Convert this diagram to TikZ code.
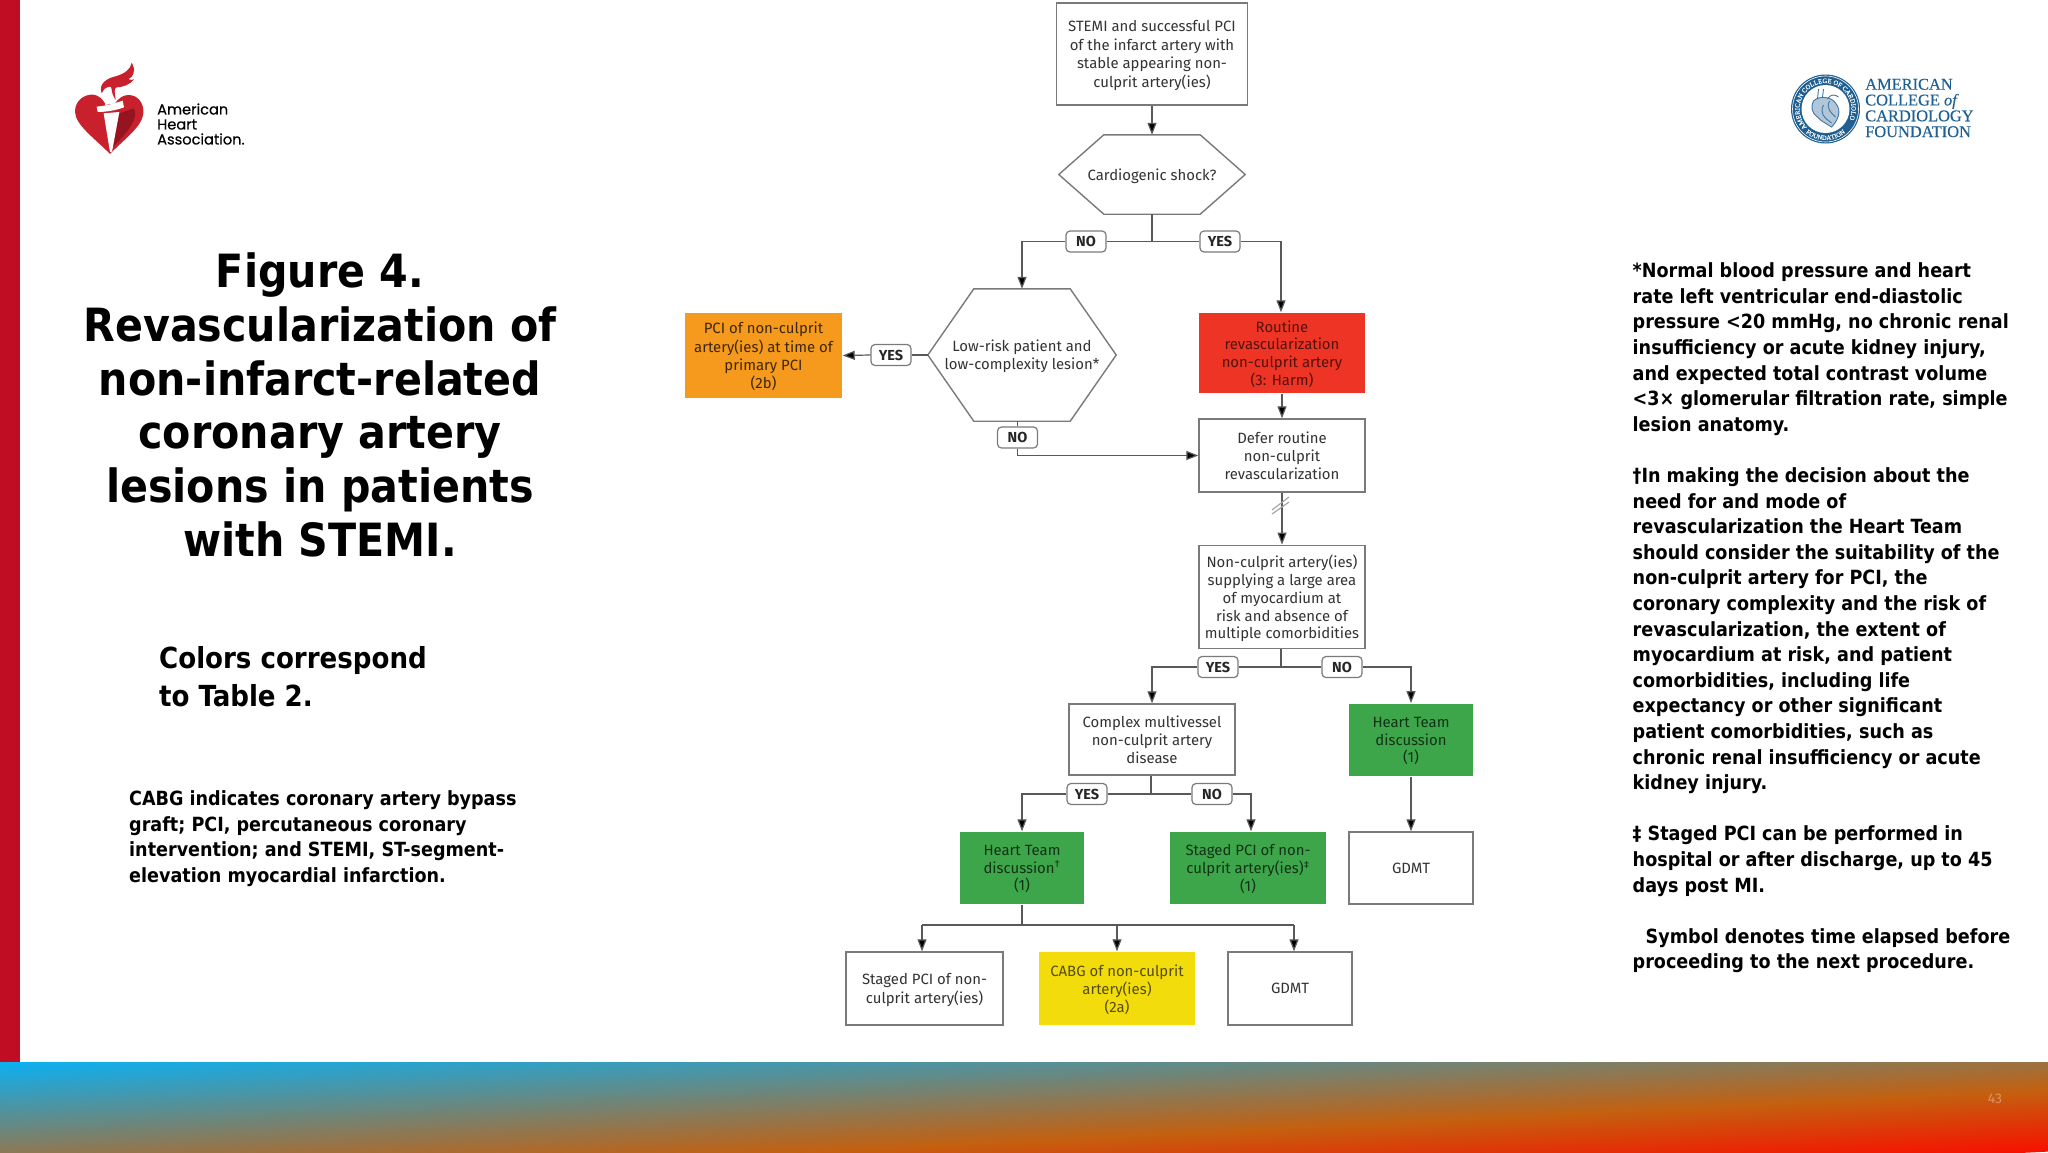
\documentclass[tikz,border=0pt]{standalone}
\usepackage{fontspec}
\setmainfont{Fira Sans}
\newfontfamily\sidefont{DejaVu Sans Condensed}
\newfontfamily\logoserif{Liberation Serif}[FakeBold=0.25]
\newfontfamily\ahafont{Poppins}[FakeBold=0.35]
\usetikzlibrary{arrows.meta,calc,decorations.text}
\definecolor{sidebar}{HTML}{C00D24}
\definecolor{linegray}{HTML}{7A7A7A}
\definecolor{boxorange}{HTML}{F59A1C}
\definecolor{boxred}{HTML}{EE3424}
\definecolor{boxgreen}{HTML}{3DA64B}
\definecolor{boxyellow}{HTML}{F2DC0C}
\definecolor{ahared}{HTML}{C9202E}
\definecolor{ahadark}{HTML}{961420}
\definecolor{accblue}{HTML}{1F5F92}
\definecolor{gradblue}{HTML}{0CB0F2}
\definecolor{gradorange}{HTML}{C4600F}
\definecolor{gradred}{HTML}{F81000}
\pgfdeclareverticalshading{barfill}{100bp}{color(0bp)=(gradred);color(25bp)=(gradred);color(41bp)=(gradorange);color(75bp)=(gradblue);color(100bp)=(gradblue)}
\newcommand{\flowsize}[1]{\fontsize{14.9}{#1}\selectfont}
\tikzset{
  box/.style={draw=linegray,line width=1.4pt,fill=white,inner sep=0pt,align=center,
    font=\flowsize{17.8},text=black!80,text depth=0pt},
  fillbox/.style={box,draw=none,fill=#1},
  hexnode/.style={inner sep=0pt,align=center,font=\flowsize{17.8},text=black!80,text depth=0pt},
  hexline/.style={draw=linegray,line width=1.4pt},
  pill/.style={draw=linegray,line width=1.2pt,fill=white,rounded corners=4pt,minimum width=40pt,
    minimum height=21pt,inner sep=0pt,font=\fontsize{14.5}{14.5}\selectfont\bfseries,text=black!85},
  conn/.style={draw=black!65,line width=1.2pt},
  arrow/.style={conn,-{Triangle[length=12pt,width=9pt,fill=black]}},
  slash/.style={draw=black!35,line width=1.2pt},
  title/.style={inner sep=0pt,align=center,font=\sidefont\fontsize{45.8}{53.8}\selectfont\bfseries},
  bodytext/.style={inner sep=0pt,align=left,anchor=west,font=\sidefont\fontsize{19.55}{25.6}\selectfont\bfseries},
}
\begin{document}
\begin{tikzpicture}[x=1pt,y=-1pt]
\useasboundingbox (0,0) rectangle (2048,1152);
\fill[white] (0,0) rectangle (2048,1152);
% side bar and gradient band
\fill[sidebar] (0,0) rectangle (20,1062);
\begin{scope}
\clip (0,1062) rectangle (2048,1152);
\begin{scope}[transform canvas={cm={1,0.05,0,1,(0,0)}}]
\shade[shading=barfill] (-100,1062) rectangle (2148,1254);
\end{scope}
\end{scope}
\node[inner sep=0pt,font=\fontsize{14}{14}\selectfont,text=white,opacity=.35] (pagenum) at (1995,1099) {43};

% AHA logo
\begin{scope}[shift={(60,50)},x=0.3333pt,y=-0.3333pt]
\fill[ahared] (150,312) .. controls (110,270) and (45,225) .. (45,185) .. controls (45,150) and (75,132) .. (100,134) .. controls (115,135) and (128,148) .. (135,160) -- (165,160) .. controls (175,145) and (190,135) .. (205,135) .. controls (235,135) and (252,160) .. (250,190) .. controls (247,230) and (190,270) .. (150,312) -- cycle;
\fill[ahadark] (178,190) -- (222,175) .. controls (235,200) and (215,235) .. (160,290) -- cycle;
\fill[white] (131,190) -- (178,186) -- (156,305) -- (150,306) -- cycle;
\fill[white] (110,170) .. controls (135,168) and (165,160) .. (188,152) -- (192,172) .. controls (165,182) and (135,186) .. (113,186) -- cycle;
\fill[white] (135,165) .. controls (135,150) and (145,140) .. (150,130) -- (170,125) -- (165,160) -- cycle;
\fill[ahared] (125,130) .. controls (115,100) and (140,85) .. (170,78) .. controls (195,70) and (212,58) .. (215,38) .. controls (228,60) and (222,80) .. (205,88) .. controls (212,90) and (218,90) .. (222,88) .. controls (210,105) and (185,112) .. (170,112) .. controls (160,115) and (165,130) .. (167,150) .. controls (150,125) and (158,108) .. (150,110) .. controls (135,112) and (128,120) .. (125,130) -- cycle;
\end{scope}
\node[inner sep=0pt,align=left,anchor=west,font=\ahafont\fontsize{14.6}{15}\selectfont,text=black] (aha) at (157,124) {American\\Heart\\Association.};

% ACC logo
\coordinate (seal) at (1825.5,109);
\fill[accblue] (seal) circle[radius=34.5pt];
\fill[white] (seal) circle[radius=24pt];
\draw[white,line width=.6pt] (seal) circle[radius=33pt];
\path[decorate,decoration={text along path,text align=center,
  text={|\fontsize{6.6}{6.6}\selectfont\logoserif\color{white}|AMERICAN COLLEGE OF CARDIOLOGY}}]
  (seal) ++(205:26pt) arc[start angle=205,end angle=-25,radius=26pt];
\path[decorate,decoration={text along path,text align=center,
  text={|\fontsize{6.6}{6.6}\selectfont\logoserif\color{white}|FOUNDATION}}]
  (seal) ++(225:31pt) arc[start angle=225,end angle=315,radius=31pt];
\begin{scope}[shift={(seal)},x=1pt,y=-1pt,accblue!85,line width=.9pt]
\fill[accblue!35] (-12,-8) .. controls (-6,-14) and (6,-12) .. (10,-6) .. controls (17,2) and (12,12) .. (6,18) .. controls (0,14) and (-5,12) .. (-8,8) .. controls (-14,4) and (-15,-3) .. (-12,-8) -- cycle;
\draw (-12,-8) .. controls (-6,-14) and (6,-12) .. (10,-6) .. controls (17,2) and (12,12) .. (6,18) .. controls (0,14) and (-5,12) .. (-8,8) .. controls (-14,4) and (-15,-3) .. (-12,-8) -- cycle;
\draw (-8,-10) -- (-7,-20) (-3,-12) -- (-2,-20) (2,-10) .. controls (6,-16) and (10,-14) .. (13,-12);
\draw (-2,-4) .. controls (-6,4) and (-2,8) .. (6,14) (4,-8) .. controls (0,0) and (6,4) .. (10,8);
\end{scope}
\node[inner sep=0pt,align=left,anchor=west,font=\logoserif\fontsize{16.4}{15.8}\selectfont,text=accblue] (acc) at (1865,108) {AMERICAN\\COLLEGE \textit{of}\\CARDIOLOGY\\FOUNDATION};

% left text
\node[title] (figtitle) at (320,405) {Figure 4.\\Revascularization of\\non-infarct-related\\coronary artery\\lesions in patients\\with STEMI.};
\node[bodytext,font=\sidefont\fontsize{29}{38}\selectfont\bfseries] (colors) at (159,677) {Colors correspond\\to Table 2.};
\node[bodytext] (abbrev) at (129,838.5) {CABG indicates coronary artery bypass\\graft; PCI, percutaneous coronary\\intervention; and STEMI, ST-segment-\\elevation myocardial infarction.};

% right text
\node[bodytext] (notes) at (1632.5,618) {*Normal blood pressure and heart\\rate left ventricular end-diastolic\\pressure <20 mmHg, no chronic renal\\insufficiency or acute kidney injury,\\and expected total contrast volume\\<3× glomerular filtration rate, simple\\lesion anatomy.\\\mbox{}\\†In making the decision about the\\need for and mode of\\revascularization the Heart Team\\should consider the suitability of the\\non-culprit artery for PCI, the\\coronary complexity and the risk of\\revascularization, the extent of\\myocardium at risk, and patient\\comorbidities, including life\\expectancy or other significant\\patient comorbidities, such as\\chronic renal insufficiency or acute\\kidney injury.\\\mbox{}\\‡ Staged PCI can be performed in\\hospital or after discharge, up to 45\\days post MI.\\\mbox{}\\\hspace*{13pt}Symbol denotes time elapsed before\\proceeding to the next procedure.};

% flowchart nodes
\node[box,font=\flowsize{18.7},minimum width=191pt,minimum height=102pt] (top) at (1152,54) {STEMI and successful PCI\\of the infarct artery with\\stable appearing non-\\culprit artery(ies)};
\node[hexnode,minimum width=186pt,minimum height=79pt] (shock) at (1152,174.5) {Cardiogenic shock?};
\draw[hexline] (shock.west) -- ($(shock.north west)+(45,0)$) -- ($(shock.north east)+(-45,0)$) -- (shock.east) -- ($(shock.south east)+(-45,0)$) -- ($(shock.south west)+(45,0)$) -- cycle;
\node[hexnode,minimum width=188pt,minimum height=132pt] (lowrisk) at (1022,355) {Low-risk patient and\\low-complexity lesion*};
\draw[hexline] (lowrisk.west) -- ($(lowrisk.north west)+(46,0)$) -- ($(lowrisk.north east)+(-46,0)$) -- (lowrisk.east) -- ($(lowrisk.south east)+(-46,0)$) -- ($(lowrisk.south west)+(46,0)$) -- cycle;
\node[fillbox=boxorange,font=\flowsize{18.3},minimum width=157pt,minimum height=85pt,text=black!75!boxorange] (orange) at (763.5,355.5) {PCI of non-culprit\\artery(ies) at time of\\primary PCI\\(2b)};
\node[fillbox=boxred,minimum width=166pt,minimum height=80pt,text=black!65!boxred] (harm) at (1282,353) {Routine\\revascularization\\non-culprit artery\\(3: Harm)};
\node[box,minimum width=166pt,minimum height=73pt] (defer) at (1282,455.5) {Defer routine\\non-culprit\\revascularization};
\node[box,minimum width=166pt,minimum height=103.5pt] (noncul) at (1282,597) {Non-culprit artery(ies)\\supplying a large area\\of myocardium at\\risk and absence of\\multiple comorbidities};
\node[box,minimum width=166pt,minimum height=71pt] (complex) at (1152,739.5) {Complex multivessel\\non-culprit artery\\disease};
\node[fillbox=boxgreen,minimum width=124pt,minimum height=72.5pt,text=black!70!boxgreen] (teamr) at (1411,740) {Heart Team\\discussion\\(1)};
\node[fillbox=boxgreen,minimum width=124pt,minimum height=72pt,text=black!70!boxgreen] (teaml) at (1022,868) {Heart Team\\discussion\textsuperscript{†}\\(1)};
\node[fillbox=boxgreen,minimum width=156pt,minimum height=72pt,text=black!70!boxgreen] (staged) at (1248,868) {Staged PCI of non-\\culprit artery(ies)\textsuperscript{‡}\\(1)};
\node[box,minimum width=124pt,minimum height=72pt] (gdmtr) at (1411,868) {GDMT};
\node[box,font=\flowsize{18.3},minimum width=157pt,minimum height=73pt] (stagedb) at (924.5,988.5) {Staged PCI of non-\\culprit artery(ies)};
\node[fillbox=boxyellow,font=\flowsize{18.3},minimum width=156pt,minimum height=73pt,text=black!65!boxyellow] (cabg) at (1117,988.5) {CABG of non-culprit\\artery(ies)\\(2a)};
\node[box,minimum width=124pt,minimum height=73pt] (gdmtb) at (1290,988.5) {GDMT};

% labels
\node[pill] (no1) at (1086,241.5) {NO};
\node[pill] (yes1) at (1220,241.5) {YES};
\node[pill] (yes2) at (891,355) {YES};
\node[pill] (no2) at (1017.5,437.5) {NO};
\node[pill] (yes3) at (1218,667) {YES};
\node[pill] (no3) at (1342,667) {NO};
\node[pill] (yes4) at (1087,794) {YES};
\node[pill] (no4) at (1212,794) {NO};

% connectors
\coordinate (j1) at (1152,241.5);
\coordinate (j3) at (1281,667);
\coordinate (j4) at (1151,794);
\coordinate (j5) at (1022,925);
\coordinate (a1) at (922,925);
\coordinate (a2) at (1117,925);
\coordinate (a3) at (1294,925);
\coordinate (cut) at (1282,507);
\draw[arrow] (top.south -| shock.north) -- (shock.north);
\draw[conn] (shock.south) -- (j1);
\draw[conn] (no1.east) -- (yes1.west);
\draw[arrow] (no1.west) -| (lowrisk.north);
\draw[arrow] (yes1.east) -| ($(harm.north)+(-1,0)$);
\draw[conn] (lowrisk.west) -- (yes2.east);
\draw[arrow] (yes2.west) -- (orange.east);
\draw[conn] (no2.north |- lowrisk.south) -- (no2.north);
\draw[arrow] (no2.south) |- (defer.west);
\draw[arrow] (harm.south) -- (defer.north);
\draw[arrow] (defer.south) -- (noncul.north);
\draw[slash] ($(cut)+(-10,3)$) -- ($(cut)+(7,-10)$);
\draw[slash] ($(cut)+(-10,7)$) -- ($(cut)+(7,-5)$);
\draw[conn] (noncul.south -| j3) -- (j3);
\draw[conn] (yes3.east) -- (no3.west);
\draw[arrow] (yes3.west) -| (complex.north);
\draw[arrow] (no3.east) -| (teamr.north);
\draw[conn] (complex.south -| j4) -- (j4);
\draw[conn] (yes4.east) -- (no4.west);
\draw[arrow] (yes4.west) -| (teaml.north);
\draw[arrow] (no4.east) -| ($(staged.north)+(3,0)$);
\draw[arrow] (teamr.south) -- (gdmtr.north);
\draw[conn] (teaml.south -| j5) -- (j5);
\draw[conn] (a1) -- (a3);
\draw[arrow] (a1) -- (a1 |- stagedb.north);
\draw[arrow] (a2) -- (a2 |- cabg.north);
\draw[arrow] (a3) -- (a3 |- gdmtb.north);
\end{tikzpicture}
\end{document}
